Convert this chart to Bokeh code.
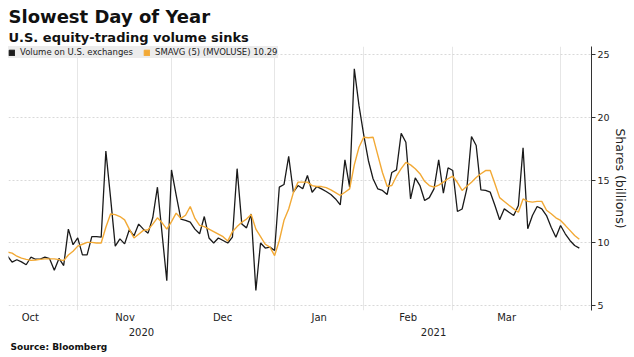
from bokeh.plotting import figure
from bokeh.models import Range1d, FixedTicker, LinearAxis, Legend, LegendItem, Title
from bokeh.embed import file_html
from bokeh.resources import INLINE

# Daily U.S. exchange volume (billions of shares), one value per trading day
volume = [8.98, 8.48, 8.67, 8.50, 8.27, 8.87, 8.71, 8.72, 8.87, 8.75,
          7.84, 8.77, 8.21, 11.10, 9.86, 10.40, 9.06, 9.06, 10.50, 10.50,
          10.46, 17.30, 13.60, 9.75, 10.33, 9.93, 11.05, 10.57, 11.50, 11.10,
          10.78, 12.00, 14.43, 10.70, 7.00, 15.80, 13.80, 11.90, 11.79, 11.65,
          11.10, 10.73, 12.10, 10.40, 10.00, 10.40, 10.20, 10.00, 10.46, 15.90,
          11.50, 11.20, 12.30, 6.23, 10.00, 9.60, 9.67, 9.40, 14.43, 14.64,
          16.87, 14.03, 14.56, 14.30, 15.36, 14.03, 14.48, 14.30, 14.09, 13.85,
          13.50, 13.03, 16.60, 14.43, 23.83, 20.90, 18.60, 16.55, 15.10, 14.30,
          14.17, 13.85, 15.60, 15.80, 18.70, 18.00, 13.50, 15.17, 14.56, 13.37,
          13.60, 14.30, 16.60, 13.95, 15.97, 15.75, 12.50, 12.70, 14.30, 18.45,
          17.74, 14.22, 14.17, 14.03, 12.98, 11.84, 12.71, 12.44, 12.18, 12.98,
          17.56, 11.13, 12.18, 12.90, 12.71, 12.18, 11.25, 10.46, 11.39, 10.73,
          10.20, 9.80, 9.59]

# SMAVG (5) (MVOLUSE)
smavg = [9.27, 9.20, 8.95, 8.80, 8.70, 8.62, 8.65, 8.70, 8.74, 8.74,
         8.74, 8.68, 8.60, 9.05, 9.35, 9.75, 9.90, 10.05, 10.05, 10.00,
         10.00, 11.25, 12.30, 12.25, 12.10, 11.84, 11.10, 10.40, 10.70, 11.00,
         11.05, 11.50, 12.00, 11.60, 11.10, 11.70, 12.37, 11.95, 12.20, 12.90,
         11.95, 11.40, 11.30, 11.10, 10.90, 10.70, 10.50, 10.15, 10.90, 11.30,
         11.65, 11.90, 12.26, 11.10, 10.50, 9.90, 9.67, 9.00, 10.20, 11.80,
         12.70, 14.00, 14.83, 14.83, 14.83, 14.55, 14.48, 14.48, 14.40, 14.22,
         14.00, 13.77, 14.03, 14.30, 16.20, 17.60, 18.40, 18.35, 18.40, 17.00,
         15.60, 14.50, 14.56, 15.30, 15.90, 16.40, 16.20, 15.90, 15.50, 14.90,
         14.56, 14.43, 14.60, 14.83, 15.10, 15.30, 14.80, 14.17, 14.50, 14.83,
         15.20, 15.50, 15.75, 15.75, 14.70, 13.60, 13.30, 13.00, 12.71, 12.44,
         13.50, 13.30, 13.24, 13.30, 13.30, 12.60, 12.32, 12.00, 11.79, 11.40,
         11.00, 10.60, 10.29]

day = list(range(len(volume)))  # trading-day index

month_labels = ["Oct", "Nov", "Dec", "Jan", "Feb", "Mar"]
month_label_pos = [4.9, 25.1, 45.9, 66.5, 85.5, 106.5]
month_start_pos = [15, 35, 57, 76, 95, 118]
year_labels = ["2020", "2021"]
year_label_pos = [28.6, 90.9]
y_ticks = [5, 10, 15, 20, 25]

FONT = "DejaVu Sans"
BLACK = "#1a1a1a"
ORANGE = "#f2a935"
TXT = "#111111"

p = figure(width=634, height=357, output_backend="svg", toolbar_location=None,
           x_range=Range1d(0.23, 124.6), y_range=Range1d(4.64, 25.6),
           y_axis_location="right", title=None,
           min_border_left=8, min_border_right=43, min_border_top=46, min_border_bottom=47,
           background_fill_color="white", border_fill_color="white", outline_line_color=None)

# grids
p.xgrid.ticker = FixedTicker(ticks=month_start_pos)
p.xgrid.grid_line_color = "#e6e6e6"
p.ygrid.ticker = FixedTicker(ticks=y_ticks)
p.ygrid.grid_line_color = "#d9d9d9"
p.ygrid.grid_line_dash = "2 2"


def style_plain_axis(ax, standoff):
    ax.axis_line_color = None
    ax.major_tick_line_color = None
    ax.minor_tick_line_color = None
    ax.major_tick_out = 0
    ax.major_tick_in = 0
    ax.major_label_standoff = standoff
    ax.major_label_text_font = FONT
    ax.major_label_text_font_size = "10px"
    ax.major_label_text_color = "#222222"


# x axis (months)
xa = p.xaxis[0]
xa.ticker = FixedTicker(ticks=month_label_pos)
xa.major_label_overrides = {pos: lab for pos, lab in zip(month_label_pos, month_labels)}
style_plain_axis(xa, 1)

# x axis (years)
xy = LinearAxis(ticker=FixedTicker(ticks=year_label_pos),
                major_label_overrides={pos: lab for pos, lab in zip(year_label_pos, year_labels)})
style_plain_axis(xy, 2)
p.add_layout(xy, "below")

# y axis (right)
yax = p.yaxis[0]
yax.ticker = FixedTicker(ticks=y_ticks)
yax.axis_line_color = "#333333"
yax.major_tick_line_color = "#333333"
yax.minor_tick_line_color = None
yax.major_tick_out = 4
yax.major_tick_in = 0
yax.major_label_standoff = 2
yax.major_label_text_font = FONT
yax.major_label_text_font_size = "9.5px"
yax.major_label_text_color = "#222222"
yax.axis_label = "Shares (billions)"
yax.axis_label_text_font = FONT
yax.axis_label_text_font_size = "12.5px"
yax.axis_label_text_font_style = "normal"
yax.axis_label_text_color = "#222222"
yax.axis_label_standoff = 0

# lines
p.line(day, volume, line_color=BLACK, line_width=1.3)
p.line(day, smavg, line_color=ORANGE, line_width=1.4)

# legend swatches (square blocks)
nan = float("nan")
s1 = p.quad(left=[nan], right=[nan], top=[nan], bottom=[nan], color=BLACK)
s2 = p.quad(left=[nan], right=[nan], top=[nan], bottom=[nan], color=ORANGE)
legend = Legend(items=[LegendItem(label="Volume on U.S. exchanges", renderers=[s1]),
                       LegendItem(label="SMAVG (5) (MVOLUSE) 10.29", renderers=[s2])],
                orientation="horizontal", location="top_left", margin=0, padding=4,
                spacing=10, glyph_width=7, glyph_height=7, label_height=12,
                label_standoff=5, label_text_font=FONT, label_text_font_size="8.5px",
                label_text_color="#222222", background_fill_color="#ececec",
                background_fill_alpha=1.0, border_line_color=None)
p.add_layout(legend)

# titles and source
p.add_layout(Title(text="U.S. equity-trading volume sinks", text_font=FONT,
                   text_font_size="13px", text_font_style="bold", text_color=TXT,
                   align="left", standoff=4), "above")
p.add_layout(Title(text="Slowest Day of Year", text_font=FONT,
                   text_font_size="18px", text_font_style="bold", text_color=TXT,
                   align="left", standoff=-3), "above")
p.add_layout(Title(text="Source: Bloomberg", text_font=FONT,
                   text_font_size="9px", text_font_style="bold", text_color=TXT,
                   align="left", standoff=2, offset=2), "below")

open("out.html", "w").write(file_html(p, INLINE))
